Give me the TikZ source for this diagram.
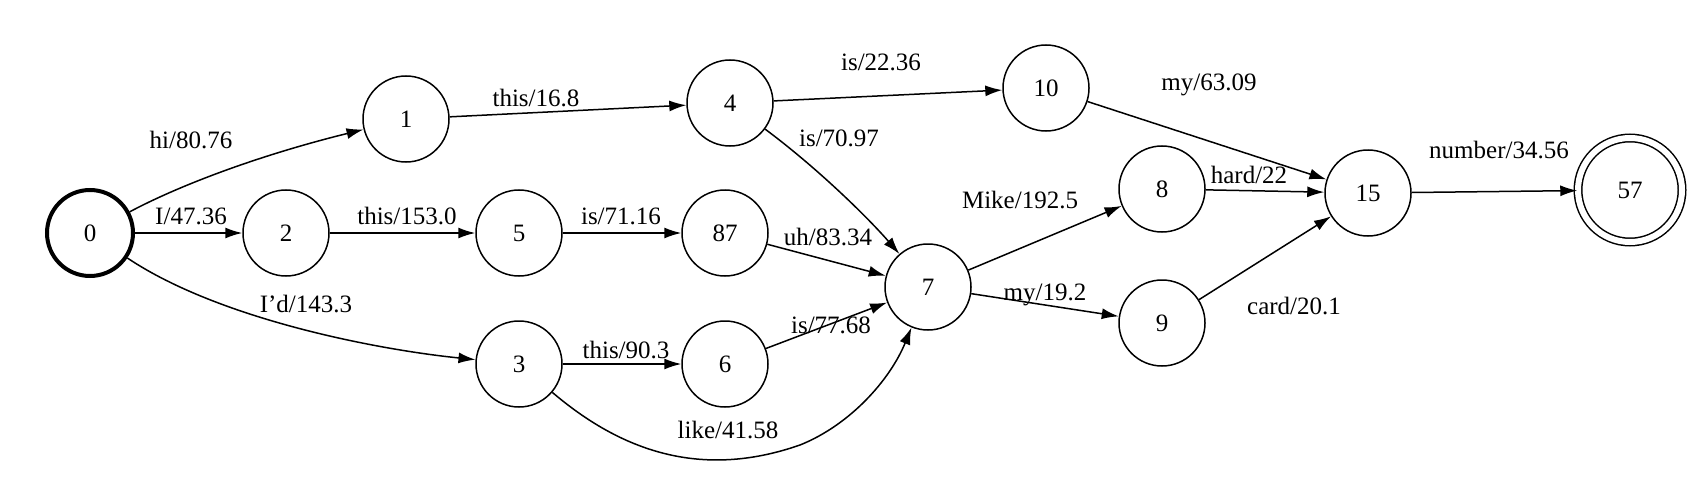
\documentclass[tikz,border=0pt]{standalone}
\usetikzlibrary{arrows.meta}
\usepackage{fontspec}
\setmainfont{Liberation Serif}
\begin{document}
\begin{tikzpicture}[x=1pt,y=-1pt,
  st/.style={circle,draw,line width=1.5pt,minimum size=86pt,inner sep=0pt,font=\fontsize{25}{29}\selectfont},
  e/.style={line width=1.5pt,-{Latex[length=17pt,width=11pt]}},
  lb/.style={font=\fontsize{25}{29}\selectfont,inner sep=0pt}]
\useasboundingbox (0,0) rectangle (1702,492);
\node[st,line width=4pt] (n0) at (90,233) {0};
\node[st] (n1) at (406,119) {1};
\node[st] (n2) at (286,233) {2};
\node[st] (n5) at (519,233) {5};
\node[st] (n87) at (725,233) {87};
\node[st] (n4) at (730,103) {4};
\node[st] (n10) at (1046,88) {10};
\node[st] (n3) at (519,364) {3};
\node[st] (n6) at (725,364) {6};
\node[st] (n7) at (928,287) {7};
\node[st] (n8) at (1162,189) {8};
\node[st] (n9) at (1162,323) {9};
\node[st] (n15) at (1368,193) {15};
\node[st,double,double distance=6pt,minimum size=104pt] (n57) at (1630,190) {57};
\draw[e] (n0) .. controls (180,185) and (260,155) .. (n1);
\draw[e] (n0) -- (n2);
\draw[e] (n0) .. controls (220,320) and (380,350) .. (n3);
\draw[e] (n1) -- (n4);
\draw[e] (n2) -- (n5);
\draw[e] (n5) -- (n87);
\draw[e] (n3) -- (n6);
\draw[e] (n3) .. controls (620,450) and (700,480) .. (800,445) .. controls (850,425) and (890,380) .. (n7);
\draw[e] (n4) -- (n10);
\draw[e] (n4) .. controls (820,170) and (870,220) .. (n7);
\draw[e] (n87) -- (n7);
\draw[e] (n6) -- (n7);
\draw[e] (n7) -- (n8);
\draw[e] (n7) -- (n9);
\draw[e] (n10) -- (n15);
\draw[e] (n8) -- (n15);
\draw[e] (n9) -- (n15);
\draw[e] (n15) -- (n57);
\node[lb] (l1) at (191,140) {hi/80.76};
\node[lb] (l2) at (191,216) {I/47.36};
\node[lb] (l3) at (306,304) {I’d/143.3};
\node[lb] (l4) at (536,98) {this/16.8};
\node[lb] (l5) at (407,216) {this/153.0};
\node[lb] (l6) at (621,216) {is/71.16};
\node[lb] (l7) at (626,350) {this/90.3};
\node[lb] (l8) at (728,430) {like/41.58};
\node[lb] (l9) at (881,62) {is/22.36};
\node[lb] (l10) at (839,138) {is/70.97};
\node[lb] (l11) at (828,237) {uh/83.34};
\node[lb] (l12) at (831,325) {is/77.68};
\node[lb] (l13) at (1020,200) {Mike/192.5};
\node[lb] (l14) at (1045,295) {my/19.2};
\node[lb] (l15) at (1209,85) {my/63.09};
\node[lb] (l16) at (1249,175) {hard/22};
\node[lb] (l17) at (1294,306) {card/20.1};
\node[lb] (l18) at (1499,150) {number/34.56};
\end{tikzpicture}
\end{document}
